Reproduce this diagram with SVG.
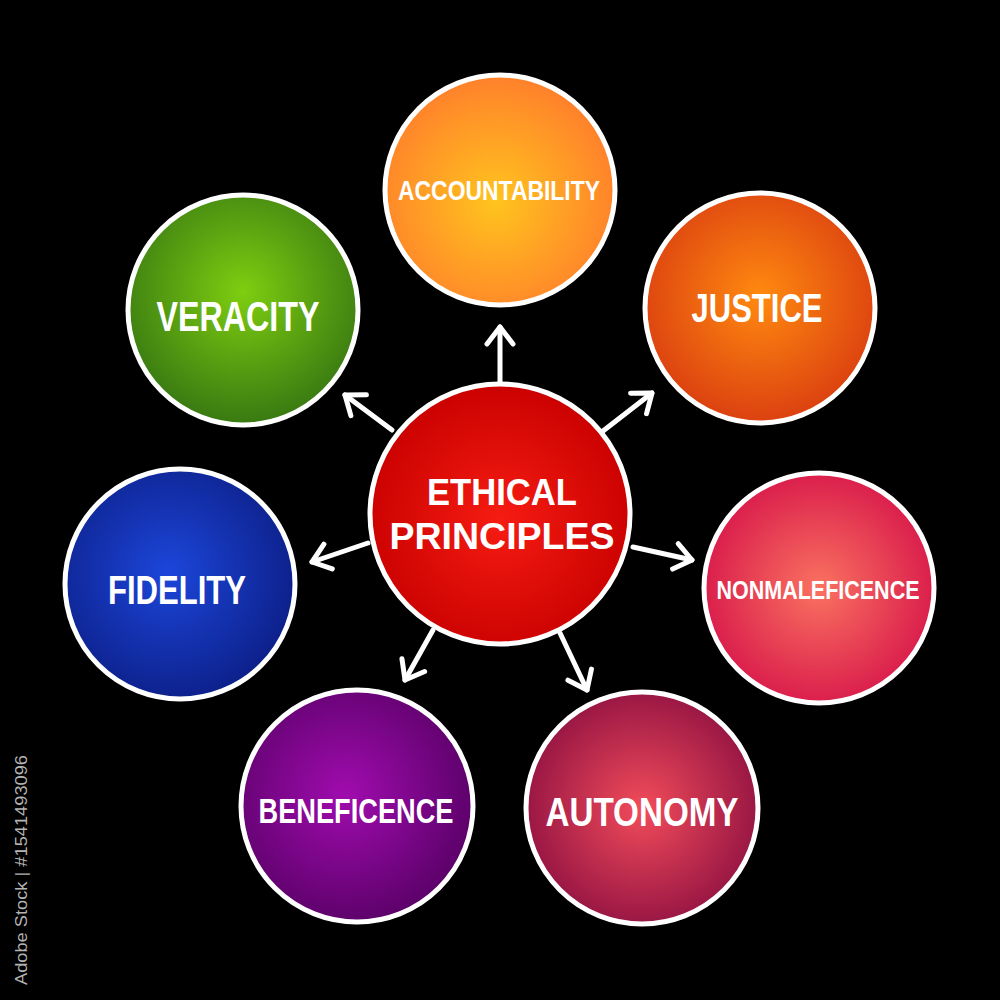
<svg xmlns="http://www.w3.org/2000/svg" width="1000" height="1000" viewBox="0 0 1000 1000">
  <defs>
    <style>
      .node { stroke: #ffffff; stroke-width: 5; }
      .lbl { font-family: "Liberation Sans", Arial, sans-serif; font-weight: bold; fill: #ffffff; text-anchor: middle; }
      .conn { stroke: #ffffff; stroke-width: 5; stroke-linecap: round; fill: none; marker-end: url(#arrow); }
      .credit { font-family: "Liberation Sans", Arial, sans-serif; font-size: 17px; fill: #b4b4b4; }
    </style>
    <marker id="arrow" markerUnits="userSpaceOnUse" orient="auto" refX="0" refY="0" markerWidth="40" markerHeight="40" viewBox="-20 -20 40 40" overflow="visible">
      <path d="M-17,-13 L0,0 L-17,13" fill="none" stroke="#ffffff" stroke-width="5" stroke-linecap="round" stroke-linejoin="round"/>
    </marker>
    <radialGradient id="gCenter" cx="0.5" cy="0.52" r="0.55">
      <stop offset="0" stop-color="#f61c12"/>
      <stop offset="1" stop-color="#c80000"/>
    </radialGradient>
    <radialGradient id="gAcc" cx="0.48" cy="0.55" r="0.6">
      <stop offset="0" stop-color="#ffc41e"/>
      <stop offset="1" stop-color="#ff7a2c"/>
    </radialGradient>
    <radialGradient id="gJus" cx="0.5" cy="0.45" r="0.6">
      <stop offset="0" stop-color="#ff8a10"/>
      <stop offset="1" stop-color="#d83a10"/>
    </radialGradient>
    <radialGradient id="gNon" cx="0.5" cy="0.5" r="0.6">
      <stop offset="0" stop-color="#fa7260"/>
      <stop offset="1" stop-color="#d40e48"/>
    </radialGradient>
    <radialGradient id="gAut" cx="0.5" cy="0.5" r="0.6">
      <stop offset="0" stop-color="#f24c5a"/>
      <stop offset="1" stop-color="#880c40"/>
    </radialGradient>
    <radialGradient id="gBen" cx="0.45" cy="0.45" r="0.6">
      <stop offset="0" stop-color="#a00cae"/>
      <stop offset="1" stop-color="#580066"/>
    </radialGradient>
    <radialGradient id="gFid" cx="0.45" cy="0.45" r="0.6">
      <stop offset="0" stop-color="#1c46da"/>
      <stop offset="1" stop-color="#0c1e86"/>
    </radialGradient>
    <radialGradient id="gVer" cx="0.5" cy="0.42" r="0.6">
      <stop offset="0" stop-color="#7ece10"/>
      <stop offset="1" stop-color="#367612"/>
    </radialGradient>
  </defs>

  <rect x="0" y="0" width="1000" height="1000" fill="#000000"/>

  <g id="connectors">
    <line class="conn" x1="500" y1="382" x2="500" y2="327"/>
    <line class="conn" x1="603" y1="431" x2="652" y2="393"/>
    <line class="conn" x1="633" y1="547" x2="692" y2="560"/>
    <line class="conn" x1="560" y1="633" x2="587" y2="690"/>
    <line class="conn" x1="433" y1="630" x2="405" y2="680"/>
    <line class="conn" x1="368" y1="543" x2="312" y2="562"/>
    <line class="conn" x1="392" y1="430" x2="345" y2="395"/>
  </g>

  <g id="node-center">
    <circle class="node" cx="500" cy="514" r="130" fill="url(#gCenter)" stroke-width="6"/>
    <text class="lbl" x="502" y="505" font-size="37" textLength="150" lengthAdjust="spacingAndGlyphs">ETHICAL</text>
    <text class="lbl" x="502" y="549" font-size="37" textLength="225" lengthAdjust="spacingAndGlyphs">PRINCIPLES</text>
  </g>

  <g id="node-accountability">
    <circle class="node" cx="500" cy="190" r="115" fill="url(#gAcc)"/>
    <text class="lbl" x="499" y="200" font-size="28" textLength="202" lengthAdjust="spacingAndGlyphs">ACCOUNTABILITY</text>
  </g>

  <g id="node-justice">
    <circle class="node" cx="760" cy="308" r="115" fill="url(#gJus)"/>
    <text class="lbl" x="757" y="322" font-size="40" textLength="131" lengthAdjust="spacingAndGlyphs">JUSTICE</text>
  </g>

  <g id="node-nonmaleficence">
    <circle class="node" cx="819" cy="588" r="115" fill="url(#gNon)"/>
    <text class="lbl" x="818" y="599" font-size="25" textLength="203" lengthAdjust="spacingAndGlyphs">NONMALEFICENCE</text>
  </g>

  <g id="node-autonomy">
    <circle class="node" cx="642" cy="808" r="116" fill="url(#gAut)"/>
    <text class="lbl" x="642" y="826" font-size="40" textLength="193" lengthAdjust="spacingAndGlyphs">AUTONOMY</text>
  </g>

  <g id="node-beneficence">
    <circle class="node" cx="357" cy="806" r="116" fill="url(#gBen)"/>
    <text class="lbl" x="356" y="823" font-size="35" textLength="195" lengthAdjust="spacingAndGlyphs">BENEFICENCE</text>
  </g>

  <g id="node-fidelity">
    <circle class="node" cx="180" cy="584" r="115" fill="url(#gFid)"/>
    <text class="lbl" x="177" y="604" font-size="41" textLength="138" lengthAdjust="spacingAndGlyphs">FIDELITY</text>
  </g>

  <g id="node-veracity">
    <circle class="node" cx="243" cy="310" r="115" fill="url(#gVer)"/>
    <text class="lbl" x="238" y="331" font-size="42" textLength="163" lengthAdjust="spacingAndGlyphs">VERACITY</text>
  </g>

  <text class="credit" transform="translate(27,985) rotate(-90)" textLength="230" lengthAdjust="spacingAndGlyphs">Adobe Stock | #1541493096</text>
</svg>
